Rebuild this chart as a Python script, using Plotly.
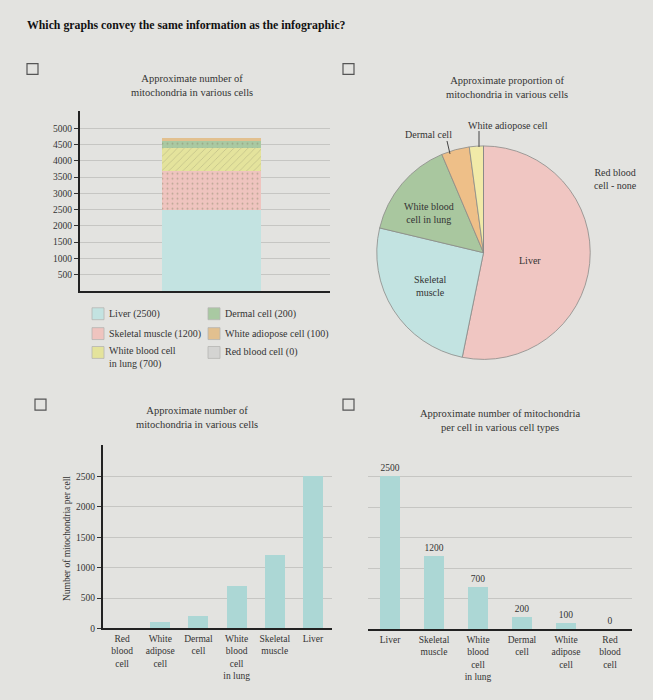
import plotly.graph_objects as go

W, H = 653, 700
def px(x): return x / W
def py(y): return 1 - y / H

# ---- data ----
stack_cells = ["Liver", "Skeletal muscle", "White blood cell in lung", "Dermal cell", "White adiopose cell", "Red blood cell"]
stack_values = [2500, 1200, 700, 200, 100, 0]
legend_labels = ["Liver (2500)", "Skeletal muscle (1200)", "White blood cell<br>in lung (700)",
                 "Dermal cell (200)", "White adiopose cell (100)", "Red blood cell (0)"]

pie_labels = ["Liver", "Skeletal muscle", "White blood cell in lung", "Dermal cell", "White adiopose cell", "Red blood cell"]
pie_values = [2500, 1200, 700, 200, 100, 0]

asc_labels = ["Red<br>blood<br>cell", "White<br>adipose<br>cell", "Dermal<br>cell", "White<br>blood<br>cell<br>in lung", "Skeletal<br>muscle", "Liver"]
asc_values = [0, 100, 200, 700, 1200, 2500]

desc_labels = ["Liver", "Skeletal<br>muscle", "White<br>blood<br>cell<br>in lung", "Dermal<br>cell", "White<br>adipose<br>cell", "Red<br>blood<br>cell"]
desc_values = [2500, 1200, 700, 200, 100, 0]

top_ticks = [500, 1000, 1500, 2000, 2500, 3000, 3500, 4000, 4500, 5000]
bl_ticks = [0, 500, 1000, 1500, 2000, 2500]

# ---- styles ----
BG = "#e3e3e0"
FONT = "Liberation Serif"
TXT = "#333333"
stack_colors = ["#c3e3e1", "#efc4bf", "#e4e39c", "#a9c9a2", "#e2c08f", "#d4d4d2"]
stack_patterns = ["", ".", "/", ".", "", ""]
pie_colors = ["#f0c6c2", "#c2e3e1", "#a9c79f", "#eebf88", "#f1eaa8", "#d4d4d2"]
BAR = "#acd7d5"
GRID = "#c6c6c3"
FS = 10.5

fig = go.Figure()

# top-left stacked bar
for name, val, col, pat in zip(stack_cells, stack_values, stack_colors, stack_patterns):
    fig.add_trace(go.Bar(x=[0], y=[val], name=name, width=1, marker=dict(color=col, line=dict(width=0),
                  pattern=dict(shape=pat, fgcolor="#8a8a6a", size=5, solidity=0.12)),
                  xaxis="x", yaxis="y", showlegend=False))

# top-right pie
fig.add_trace(go.Pie(labels=pie_labels, values=pie_values, sort=False, direction="clockwise", rotation=0,
                     marker=dict(colors=pie_colors, line=dict(color="#8a8a88", width=0.8)),
                     textinfo="none", hoverinfo="label+value", showlegend=False,
                     domain=dict(x=[px(376), px(591)], y=[py(362), py(147)])))

# bottom-left bars
fig.add_trace(go.Bar(x=asc_labels, y=asc_values, width=0.52, marker=dict(color=BAR, line=dict(width=0)),
                     xaxis="x2", yaxis="y2", showlegend=False))

# bottom-right bars with values
fig.add_trace(go.Bar(x=desc_labels, y=desc_values, width=0.46, marker=dict(color=BAR, line=dict(width=0)),
                     text=[str(v) for v in desc_values], textposition="outside", cliponaxis=False,
                     textfont=dict(family=FONT, size=9.5, color=TXT),
                     xaxis="x3", yaxis="y3", showlegend=False))

tickfont = dict(family=FONT, size=9.5, color=TXT)
fig.update_layout(
    width=W, height=H, margin=dict(l=0, r=0, t=0, b=0),
    paper_bgcolor=BG, plot_bgcolor=BG, barmode="stack",
    font=dict(family=FONT, color=TXT),
    xaxis=dict(domain=[px(80), px(330)], range=[-1.33, 1.195], showticklabels=False, showgrid=False,
               zeroline=False, showline=True, linecolor="#222", linewidth=2, fixedrange=True, anchor="y"),
    yaxis=dict(domain=[py(293), py(112)], range=[0, 5530], tickvals=top_ticks, ticks="outside", ticklen=4,
               tickcolor="#333", tickfont=tickfont, showgrid=True, gridcolor=GRID, gridwidth=1,
               zeroline=False, showline=True, linecolor="#222", linewidth=2, anchor="x"),
    xaxis2=dict(domain=[px(103), px(332)], showgrid=False, zeroline=False, showline=True, linecolor="#222",
                linewidth=2, tickfont=tickfont, ticks="", anchor="y2"),
    yaxis2=dict(domain=[py(633), py(448)], range=[0, 3020], tickvals=bl_ticks, ticks="outside", ticklen=4,
                tickcolor="#333", tickfont=tickfont, showgrid=True, gridcolor=GRID, gridwidth=1,
                zeroline=False, showline=True, linecolor="#222", linewidth=2, anchor="x2"),
    xaxis3=dict(domain=[px(368), px(632)], showgrid=False, zeroline=False, showline=True, linecolor="#222",
                linewidth=2, tickfont=tickfont, ticks="", anchor="y3"),
    yaxis3=dict(domain=[py(634), py(449)], range=[0, 3000], dtick=500, showticklabels=False, showgrid=True,
                gridcolor=GRID, gridwidth=1, zeroline=False, showline=False, anchor="x3"),
)

shapes = []
annotations = []
def ann(x, y, text, size=FS, color=TXT, xanchor="center", bold=False, angle=0, align="center"):
    annotations.append(dict(x=px(x), y=py(y), xref="paper", yref="paper", text=f"<b>{text}</b>" if bold else text,
                            showarrow=False, xanchor=xanchor, yanchor="middle", align=align, textangle=angle,
                            font=dict(family=FONT, size=size, color=color)))

# question title
ann(25, 25, "Which graphs convey the same information as the infographic?", size=11.8, color="#111", xanchor="left", bold=True)

# checkboxes
for (x0, y0) in [(27, 64), (343, 64), (35, 402), (343, 402)]:
    shapes.append(dict(type="rect", xref="paper", yref="paper", x0=px(x0), x1=px(x0 + 11), y0=py(y0 + 11), y1=py(y0),
                       line=dict(color="#555", width=1.2), fillcolor="rgba(0,0,0,0)"))

# chart titles
ann(192, 86, "Approximate number of<br>mitochondria in various cells")
ann(507, 88, "Approximate proportion of<br>mitochondria in various cells")
ann(197, 421, "Approximate number of<br>mitochondria in various cells")
ann(500, 424, "Approximate number of mitochondria<br>per cell in various cell types")

# stacked-bar legend
legend_pos = [(92, 316), (92, 336), (92, 355), (208, 316), (208, 336), (208, 355)]
for (sx, sy), lab, col in zip(legend_pos, legend_labels, stack_colors):
    shapes.append(dict(type="rect", xref="paper", yref="paper", x0=px(sx), x1=px(sx + 12), y0=py(sy + 6), y1=py(sy - 6),
                       line=dict(color="#b5b5b2", width=0.8), fillcolor=col))
    yy = sy + 5 if "<br>" in lab else sy
    ann(sx + 15, yy, lab, size=10, xanchor="left", align="left")

# pie labels
ann(530, 262, "Liver", size=10)
ann(430, 288, "Skeletal<br>muscle", size=10)
ann(429, 215, "White blood<br>cell in lung", size=10)
ann(428, 135, "Dermal cell", size=10)
ann(508, 126, "White adiopose cell", size=10)
ann(615, 180, "Red blood<br>cell - none", size=10)
shapes.append(dict(type="line", xref="paper", yref="paper", x0=px(447), y0=py(142), x1=px(450), y1=py(155),
                   line=dict(color="#444", width=1)))
shapes.append(dict(type="line", xref="paper", yref="paper", x0=px(479), y0=py(132), x1=px(479), y1=py(148),
                   line=dict(color="#444", width=1)))

# bottom-left y-axis title
ann(67, 543, "Number of mitochondria per cell", size=9.5, angle=-90)

fig.update_layout(shapes=shapes, annotations=annotations)
fig.write_html("out.html", config={"displayModeBar": False},
               post_script="document.body.style.margin='0';document.body.style.overflow='hidden';")
